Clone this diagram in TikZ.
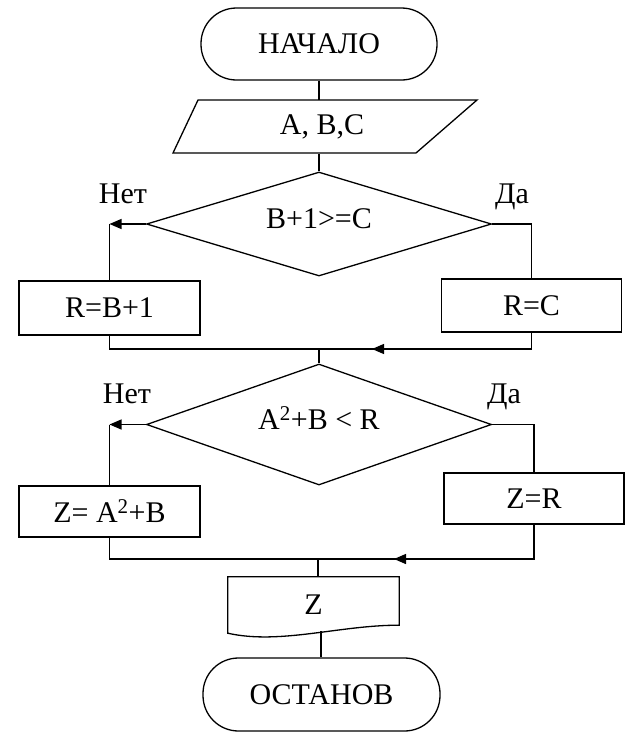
\documentclass[tikz,border=0pt]{standalone}
\usepackage{fontspec}
\setmainfont{Liberation Serif}
\usetikzlibrary{shapes.geometric,arrows.meta,calc}
\begin{document}
\begin{tikzpicture}[x=1pt,y=-1pt,
  every node/.style={font=\fontsize{30}{35}\selectfont},
  line/.style={line width=1.3pt},
  arr/.style={line width=1.3pt,-{Triangle[length=12pt,width=10pt]}},
  term/.style={draw,line width=1.3pt,rectangle,rounded corners=35.5pt,minimum width=236pt,minimum height=72pt,inner sep=0pt},
  proc/.style={draw,line width=1.3pt,rectangle,minimum width=181pt,inner sep=0pt},
  dec/.style={draw,line width=1.3pt,diamond,minimum width=345pt,aspect=3,inner sep=0pt},
  lab/.style={anchor=base}]
\useasboundingbox (0,0) rectangle (644,742);

% nodes
\node[term] (start) at (319,44) {НАЧАЛО};
\node[minimum width=230pt,minimum height=53pt,inner sep=0pt] (io) at (322,127) {A, B,C};
\draw[line] (198,100) -- (477,100) -- (416,153) -- (173,153) -- cycle;

\node[dec,minimum height=104pt] (d1) at (319,224) {};
\node (t1) at ([yshift=5pt]d1.center) {B+1>=C};
\node[proc,minimum height=54pt] (b1) at (109.5,308) {R=B+1};
\node[proc,minimum height=53pt,minimum width=180pt] (b2) at (531.5,305.5) {R=C};

\node[dec,minimum height=121pt] (d2) at (319,424.5) {};
\node (t2) at ([yshift=6pt]d2.center) {A\textsuperscript{2}+B < R};
\node[proc,minimum height=51pt] (b3) at (109.5,511.5) {Z= A\textsuperscript{2}+B};
\node[proc,minimum height=51pt,minimum width=180pt] (b4) at (534,498.5) {Z=R};

\node[minimum width=171pt,minimum height=56pt,inner sep=0pt] (doc) at (313.5,605) {Z};
\draw[line] (doc.north west) -- (doc.north east) -- ([yshift=8pt]doc.south east)
  .. controls (340,625) and (280,645) .. (doc.south west) -- cycle;

\node[term,minimum width=237pt,minimum height=73pt] (stop) at (321.5,694.5) {ОСТАНОВ};

% labels
\node[lab] (no1) at (123,203) {Нет};
\node[lab] (yes1) at (512,203) {Да};
\node[lab] (no2) at (127,403) {Нет};
\node[lab] (yes2) at (504,403) {Да};

% coordinates
\coordinate (j1) at (319,349);
\coordinate (a1) at (372,349);
\coordinate (j2) at (318,559);
\coordinate (a2) at (394,559);
\coordinate (docout) at (321,631);

% connectors
\draw[line] (start.south) -- (start.south |- io.north);
\draw[line] (start.south |- io.south) -- (d1.north);
\draw[arr] (d1.west) -- (d1.west -| b1.north);
\draw[line] (d1.west -| b1.north) -- (b1.north);
\draw[line] (d1.east) -| (b2.north);
\draw[line] (b1.south) |- (j1) -| (b2.south);
\draw[arr] (b2.south |- j1) -- (a1);
\draw[line] (j1) -- (j1 |- d2.north);
\draw[arr] (d2.west) -- (d2.west -| b3.north);
\draw[line] (d2.west -| b3.north) -- (b3.north);
\draw[line] (d2.east) -| (b4.north);
\draw[line] (b3.south) |- (j2) -| (b4.south);
\draw[arr] (b4.south |- j2) -- (a2);
\draw[line] (j2) -- (j2 |- doc.north);
\draw[line] (docout) -- (docout |- stop.north);
\end{tikzpicture}
\end{document}
